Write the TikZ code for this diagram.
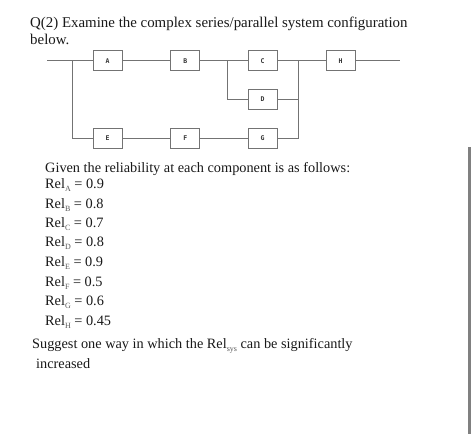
\documentclass[tikz,border=0pt]{standalone}
\usepackage{fontspec}
\setmainfont{Liberation Serif}
\newfontfamily\boxfont{DejaVu Sans Mono}
\newcommand{\relsub}[1]{Rel\raisebox{-3.2pt}{\fontsize{8}{8}\selectfont\color{black!65}#1}}
\tikzset{
  comp/.style={draw=black!55,line width=1pt,fill=white,minimum width=29pt,minimum height=20pt,inner sep=0pt,font=\boxfont\bfseries\fontsize{6.5}{6.5}\selectfont,text=black!80},
  wire/.style={draw=black!55,line width=1pt},
  txt/.style={anchor=base west,inner sep=0pt,text=black!90,font=\fontsize{14.3}{16}\selectfont},
  head/.style={txt,font=\fontsize{14.9}{16}\selectfont},
}
\begin{document}
\begin{tikzpicture}[x=1pt,y=-1pt]
\useasboundingbox (0,0) rectangle (474,434);
\fill[white] (0,0) rectangle (474,434);
% components
\node[comp] (A) at (107.7,60.7) {A};
\node[comp] (B) at (185.3,60.7) {B};
\node[comp] (C) at (262.7,60.7) {C};
\node[comp] (D) at (262.7,99.5) {D};
\node[comp] (E) at (107.7,138.5) {E};
\node[comp] (F) at (185.3,138.5) {F};
\node[comp] (G) at (262.7,138.5) {G};
\node[comp] (H) at (340.7,60.7) {H};
% junctions and free ends
\coordinate (in) at (47.3,60.7);
\coordinate (out) at (400,60.7);
\coordinate (jl) at (72.3,60.7);
\coordinate (jm) at (227.3,60.7);
\coordinate (jr) at (298.3,60.7);
% wiring
\draw[wire] (in) -- (A);
\draw[wire] (A) -- (B);
\draw[wire] (B) -- (C);
\draw[wire] (C) -- (H);
\draw[wire] (H) -- (out);
\draw[wire] (jl) |- (E);
\draw[wire] (E) -- (F);
\draw[wire] (F) -- (G);
\draw[wire] (jm) |- (D);
\draw[wire] (D) -| (jr);
\draw[wire] (G) -| (jr);
% text
\node[head] (t1) at (30,27) {Q(2) Examine the complex series/parallel system configuration};
\node[head] (t2) at (30,44) {below.};
\node[txt] (t3) at (45,172) {Given the reliability at each component is as follows:};
\node[txt] (r1) at (45,188.5) {\relsub{A} = 0.9};
\node[txt] (r2) at (45,208) {\relsub{B} = 0.8};
\node[txt] (r3) at (45,227.5) {\relsub{C} = 0.7};
\node[txt] (r4) at (45,246.5) {\relsub{D} = 0.8};
\node[txt] (r5) at (45,266) {\relsub{E} = 0.9};
\node[txt] (r6) at (45,286) {\relsub{F} = 0.5};
\node[txt] (r7) at (45,305.5) {\relsub{G} = 0.6};
\node[txt] (r8) at (45,325) {\relsub{H} = 0.45};
\node[txt] (s1) at (32,348.5) {Suggest one way in which the \relsub{sys} can be significantly};
\node[txt] (s2) at (36,368) {increased};
% scrollbar
\fill[black!50] (468,147) rectangle (470.5,434);
\end{tikzpicture}
\end{document}
